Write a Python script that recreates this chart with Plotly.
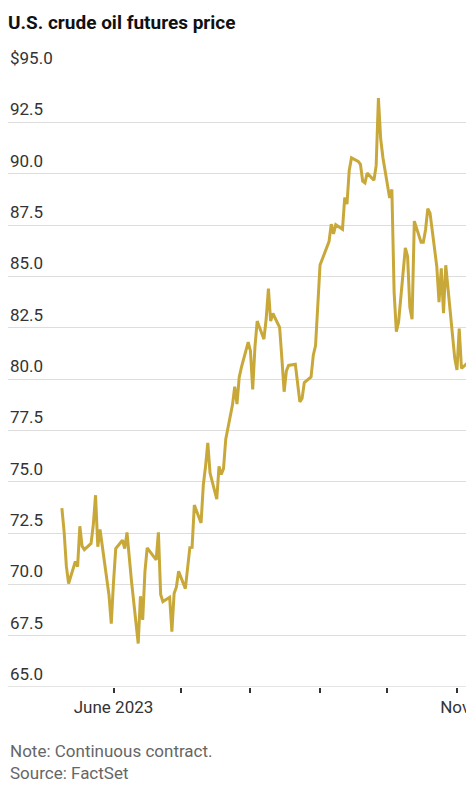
import plotly.graph_objects as go

dates = ["2023-05-09","2023-05-10","2023-05-11","2023-05-12","2023-05-15","2023-05-16","2023-05-17","2023-05-18","2023-05-19",
"2023-05-22","2023-05-23","2023-05-24","2023-05-25","2023-05-26","2023-05-30","2023-05-31","2023-06-01","2023-06-02",
"2023-06-05","2023-06-06","2023-06-07","2023-06-08","2023-06-09","2023-06-12","2023-06-13","2023-06-14","2023-06-15","2023-06-16",
"2023-06-20","2023-06-21","2023-06-22","2023-06-23","2023-06-26","2023-06-27","2023-06-28","2023-06-29","2023-06-30",
"2023-07-03","2023-07-05","2023-07-06","2023-07-07","2023-07-10","2023-07-11","2023-07-12","2023-07-13","2023-07-14",
"2023-07-17","2023-07-18","2023-07-19","2023-07-20","2023-07-21","2023-07-24","2023-07-25","2023-07-26","2023-07-27","2023-07-28",
"2023-07-31","2023-08-01","2023-08-02","2023-08-03","2023-08-04","2023-08-07","2023-08-08","2023-08-09","2023-08-10","2023-08-11",
"2023-08-14","2023-08-15","2023-08-16","2023-08-17","2023-08-18","2023-08-21","2023-08-22","2023-08-23","2023-08-24","2023-08-25",
"2023-08-28","2023-08-29","2023-08-30","2023-08-31","2023-09-01","2023-09-05","2023-09-06","2023-09-07","2023-09-08",
"2023-09-11","2023-09-12","2023-09-13","2023-09-14","2023-09-15","2023-09-18","2023-09-19","2023-09-20","2023-09-21","2023-09-22",
"2023-09-25","2023-09-26","2023-09-27","2023-09-28","2023-09-29","2023-10-02","2023-10-03","2023-10-04","2023-10-05","2023-10-06",
"2023-10-09","2023-10-10","2023-10-11","2023-10-12","2023-10-13","2023-10-16","2023-10-17","2023-10-18","2023-10-19","2023-10-20",
"2023-10-23","2023-10-24","2023-10-25","2023-10-26","2023-10-27","2023-10-30","2023-10-31","2023-11-01","2023-11-02","2023-11-03",
"2023-11-06","2023-11-07"]
prices = [73.71,72.56,70.87,70.04,71.11,70.86,72.83,71.86,71.69,
71.99,72.91,74.34,71.83,72.67,69.46,68.09,70.10,71.74,
72.15,71.74,72.53,71.29,70.17,67.12,69.42,68.27,70.62,71.78,
71.19,72.53,69.51,69.16,69.37,67.70,69.56,69.86,70.64,
69.79,71.79,71.80,73.86,72.99,74.83,75.75,76.89,75.42,
74.15,75.75,75.35,75.63,77.07,78.74,79.63,78.78,80.09,80.58,
81.80,81.37,79.49,81.55,82.82,81.94,82.92,84.40,82.82,83.19,
82.51,80.99,79.38,80.39,80.66,80.72,79.64,78.89,79.05,79.83,
80.10,81.16,81.63,83.63,85.55,86.69,87.54,87.07,87.51,
87.29,88.84,88.52,90.16,90.77,90.60,90.45,89.63,89.55,90.03,
89.68,90.39,93.68,91.71,90.79,88.82,89.23,84.22,82.31,82.79,
86.38,85.97,83.49,82.91,87.69,86.66,86.66,87.27,88.30,88.08,
85.49,83.74,85.39,83.21,85.54,82.31,81.02,80.44,82.46,80.51,
80.82,77.37]

ytick_vals = [95.0,92.5,90.0,87.5,85.0,82.5,80.0,77.5,75.0,72.5,70.0,67.5,65.0]
ytick_text = ["$95.0","92.5","90.0","87.5","85.0","82.5","80.0","77.5","75.0","72.5","70.0","67.5","65.0"]
xtick_vals = ["2023-06-01","2023-07-01","2023-08-01","2023-09-01","2023-10-01","2023-11-01"]
xtick_text = ["June 2023","","","","","Nov."]

FONT = "Liberation Sans Narrow, Roboto, Arial Narrow, sans-serif"

fig = go.Figure()
fig.add_trace(go.Scatter(x=dates, y=prices, mode="lines",
                         line=dict(color="#c9a83a", width=3), hoverinfo="skip"))

for v, t in zip(ytick_vals, ytick_text):
    fig.add_annotation(x=0, xref="paper", y=v, yref="y", text=t, showarrow=False,
                       xanchor="left", yanchor="bottom", yshift=1,
                       font=dict(family=FONT, size=17, color="#333"))

fig.update_layout(
    width=466, height=782, margin=dict(l=0, r=0, t=63, b=103),
    plot_bgcolor="white", paper_bgcolor="white", showlegend=False,
    title=dict(text="<b>U.S. crude oil futures price</b>", x=0, xanchor="left",
               y=0.99, yanchor="top", font=dict(family=FONT, size=19, color="#111")),
    xaxis=dict(range=["2023-04-15","2023-11-08 14:00"], tickvals=xtick_vals, ticktext=xtick_text,
               showgrid=False, zeroline=False, showline=False, ticks="outside", ticklen=5,
               tickcolor="#333", tickwidth=2, tickfont=dict(family=FONT, size=17, color="#333")),
    yaxis=dict(range=[65, 95], tickvals=ytick_vals, showticklabels=False, showgrid=True,
               gridcolor="#dddddd", gridwidth=1, zeroline=False, fixedrange=True, showline=False),
    annotations=list(fig.layout.annotations) + [
        dict(x=0, xref="paper", y=-0.085, yref="paper", xanchor="left", yanchor="top",
             text="Note: Continuous contract.<br>Source: FactSet", showarrow=False, align="left",
             font=dict(family=FONT, size=17, color="#666"))
    ],
)
fig.add_shape(type="line", xref="paper", yref="y", x0=0, x1=1, y0=65, y1=65,
              line=dict(color="#cccccc", width=1))

fig.write_html("out.html")
